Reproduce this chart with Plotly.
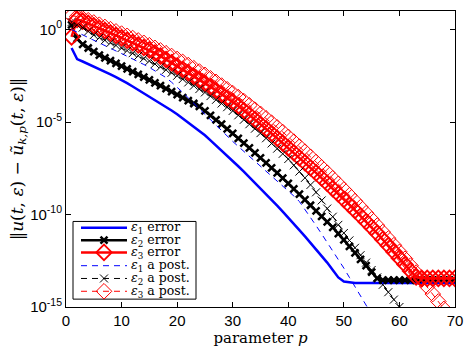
import plotly.graph_objects as go

# parameter p
p_all = list(range(1, 71))

# log10 of the errors / estimates
eps1_err_log = [-1.0, -1.6, -1.73, -1.86, -2.0, -2.14, -2.28, -2.42, -2.57, -2.72,
                -2.9, -3.08, -3.26, -3.44, -3.62, -3.8, -3.99, -4.18, -4.38, -4.58,
                -4.8, -5.02, -5.24, -5.46, -5.72, -5.99, -6.26, -6.54, -6.82, -7.1,
                -7.39, -7.68, -7.98, -8.28, -8.58, -8.89, -9.2, -9.52, -9.84, -10.16,
                -10.5, -10.84, -11.18, -11.52, -11.87, -12.22, -12.6, -13.0, -13.4, -13.62,
                -13.68, -13.7, -13.7, -13.7, -13.7, -13.7, -13.7, -13.7, -13.7, -13.7,
                -13.7, -13.7, -13.7, -13.7, -13.7, -13.7, -13.7, -13.7, -13.7, -13.7]

eps2_err_log = [0.25, -0.5, -0.8, -1.0, -1.2, -1.38, -1.53, -1.68, -1.83, -1.98,
                -2.13, -2.28, -2.43, -2.58, -2.72, -2.88, -3.04, -3.2, -3.36, -3.52,
                -3.68, -3.84, -4.0, -4.16, -4.4, -4.64, -4.88, -5.12, -5.37, -5.62,
                -5.88, -6.14, -6.4, -6.67, -6.94, -7.21, -7.48, -7.75, -8.03, -8.32,
                -8.61, -8.9, -9.2, -9.5, -9.8, -10.1, -10.4, -10.7, -11.03, -11.37,
                -11.72, -12.07, -12.42, -12.77, -13.12, -13.45, -13.55, -13.55, -13.55, -13.55,
                -13.55, -13.55, -13.55, -13.55, -13.55, -13.55, -13.55, -13.55, -13.55, -13.55]

eps3_err_log = [-0.4, 0.55, 0.45, 0.33, 0.2, 0.07, -0.06, -0.19, -0.32, -0.45,
                -0.58, -0.71, -0.84, -0.97, -1.1, -1.27, -1.44, -1.62, -1.8, -1.98,
                -2.16, -2.34, -2.53, -2.72, -2.91, -3.1, -3.3, -3.5, -3.7, -3.9,
                -4.14, -4.38, -4.62, -4.87, -5.12, -5.37, -5.62, -5.88, -6.14, -6.4,
                -6.66, -6.93, -7.2, -7.47, -7.75, -8.03, -8.31, -8.6, -8.89, -9.18,
                -9.48, -9.78, -10.08, -10.39, -10.7, -11.02, -11.35, -11.68, -12.02, -12.36,
                -12.7, -13.05, -13.38, -13.45, -13.45, -13.45, -13.45, -13.45, -13.45, -13.45]

p_post1 = list(range(1, 56))
eps1_post_log = [0.0, -0.15, -0.3, -0.45, -0.6, -0.74, -0.88, -1.02, -1.16, -1.3,
                 -1.44, -1.59, -1.74, -1.89, -2.05, -2.22, -2.4, -2.6, -2.85, -3.1,
                 -3.4, -3.7, -4.0, -4.3, -4.6, -4.9, -5.2, -5.5, -5.78, -6.05,
                 -6.32, -6.59, -6.86, -7.13, -7.4, -7.66, -7.92, -8.18, -8.44, -8.7,
                 -9.0, -9.3, -9.72, -10.15, -10.6, -11.05, -11.5, -12.0, -12.45, -12.9,
                 -13.4, -13.9, -14.4, -14.9, -15.4]

p_post2 = list(range(1, 61))
eps2_post_log = [0.4, 0.25, 0.1, -0.1, -0.3, -0.44, -0.58, -0.72, -0.86, -1.0,
                 -1.14, -1.28, -1.42, -1.56, -1.7, -1.86, -2.02, -2.18, -2.34, -2.5,
                 -2.68, -2.86, -3.04, -3.22, -3.4, -3.6, -3.8, -4.0, -4.2, -4.4,
                 -4.64, -4.88, -5.12, -5.36, -5.6, -5.88, -6.16, -6.44, -6.72, -7.0,
                 -7.34, -7.68, -8.02, -8.4, -8.8, -9.24, -9.68, -10.12, -10.56, -11.0,
                 -11.4, -11.8, -12.2, -12.6, -13.0, -13.4, -13.8, -14.2, -14.6, -15.0]

p_post3 = list(range(1, 69))
eps3_post_log = [0.75, 0.7, 0.6, 0.5, 0.38, 0.26, 0.14, 0.02, -0.1, -0.22,
                 -0.34, -0.46, -0.59, -0.72, -0.85, -0.99, -1.13, -1.28, -1.43, -1.59,
                 -1.75, -1.92, -2.09, -2.27, -2.45, -2.64, -2.83, -3.03, -3.23, -3.44,
                 -3.65, -3.87, -4.1, -4.33, -4.56, -4.8, -5.04, -5.29, -5.54, -5.8,
                 -6.06, -6.33, -6.6, -6.88, -7.16, -7.45, -7.74, -8.04, -8.34, -8.65,
                 -8.96, -9.28, -9.6, -9.93, -10.26, -10.6, -10.95, -11.3, -11.66, -12.02,
                 -12.39, -12.76, -13.14, -13.52, -13.9, -14.3, -14.7, -15.1]

x_ticks = [0, 10, 20, 30, 40, 50, 60, 70]
y_tick_vals = [1e-15, 1e-10, 1e-5, 1e0]
y_tick_text = ["10<sup>-15</sup>", "10<sup>-10</sup>", "10<sup>-5</sup>", "10<sup>0</sup>"]

legend_labels = ["<i>ε</i><sub>1</sub> error", "<i>ε</i><sub>2</sub> error", "<i>ε</i><sub>3</sub> error",
                 "<i>ε</i><sub>1</sub> a post.", "<i>ε</i><sub>2</sub> a post.", "<i>ε</i><sub>3</sub> a post."]

BLUE = "rgb(0,0,255)"
BLACK = "rgb(0,0,0)"
RED = "rgb(255,0,0)"
SERIF = "DejaVu Serif"

def tolin(v):
    return [10 ** a for a in v]

styles = [
    dict(color=BLUE, width=2.5, dash="solid", symbol=None, msize=0, mwidth=0),
    dict(color=BLACK, width=2.5, dash="solid", symbol="x-thin", msize=7, mwidth=2.5),
    dict(color=RED, width=2.5, dash="solid", symbol="diamond-open", msize=12, mwidth=1.8),
    dict(color=BLUE, width=1, dash="6px,5px", symbol=None, msize=0, mwidth=0),
    dict(color=BLACK, width=1, dash="6px,5px", symbol="x-thin", msize=8, mwidth=1),
    dict(color=RED, width=1, dash="6px,5px", symbol="diamond-open", msize=12, mwidth=1),
]

series = [
    (p_all, eps1_err_log),
    (p_all, eps2_err_log),
    (p_all, eps3_err_log),
    (p_post1, eps1_post_log),
    (p_post2, eps2_post_log),
    (p_post3, eps3_post_log),
]

fig = go.Figure()

for (px, py), st in zip(series, styles):
    mode = "lines+markers" if st["symbol"] else "lines"
    tr = dict(x=px, y=tolin(py), mode=mode,
              line=dict(color=st["color"], width=st["width"], dash=st["dash"]),
              showlegend=False, hoverinfo="skip")
    if st["symbol"]:
        tr["marker"] = dict(symbol=st["symbol"], size=st["msize"],
                            color=st["color"],
                            line=dict(color=st["color"], width=st["mwidth"]))
    fig.add_trace(go.Scatter(**tr))

# ---- manual compact legend (overlay axes in pixel-like units) ----
L_X0, L_X1, L_Y0, L_Y1 = 73, 196, 224, 303
fig.add_trace(go.Scatter(x=[L_X0, L_X1, L_X1, L_X0, L_X0], y=[L_Y0, L_Y0, L_Y1, L_Y1, L_Y0],
                         mode="lines", fill="toself", fillcolor="white",
                         line=dict(color="black", width=1),
                         xaxis="x2", yaxis="y2", showlegend=False, hoverinfo="skip"))
row_y = [230.5, 243.0, 255.5, 269.0, 282.0, 295.0]
for i, st in enumerate(styles):
    yy = row_y[i]
    fig.add_trace(go.Scatter(x=[81, 127], y=[yy, yy], mode="lines",
                             line=dict(color=st["color"], width=st["width"], dash=st["dash"]),
                             xaxis="x2", yaxis="y2", showlegend=False, hoverinfo="skip"))
    if st["symbol"]:
        fig.add_trace(go.Scatter(x=[104], y=[yy], mode="markers",
                                 marker=dict(symbol=st["symbol"], size=st["msize"], color=st["color"],
                                             line=dict(color=st["color"], width=st["mwidth"])),
                                 xaxis="x2", yaxis="y2", showlegend=False, hoverinfo="skip"))
    fig.add_annotation(x=130, y=yy, xref="x2", yref="y2", text=legend_labels[i],
                       showarrow=False, xanchor="left", yanchor="middle", borderpad=0,
                       font=dict(family=SERIF, size=12.5, color="black"))

axis_common = dict(showline=True, linecolor="black", linewidth=1, mirror="ticks",
                   ticks="inside", ticklen=5, tickcolor="black", showgrid=False, zeroline=False,
                   tickfont=dict(family="Liberation Sans, Arial", size=15, color="black"))

fig.update_layout(
    width=474, height=353,
    margin=dict(l=66, r=19, t=10, b=42),
    paper_bgcolor="white", plot_bgcolor="white",
    xaxis=dict(range=[0, 70], tickvals=x_ticks,
               title=dict(text="parameter <i>p</i>", standoff=3,
                          font=dict(family=SERIF, size=15, color="black")),
               **axis_common),
    yaxis=dict(type="log", range=[-15, 1], tickvals=y_tick_vals, ticktext=y_tick_text,
               title=dict(text="‖<i>u</i>(<i>t</i>, <i>ε</i>) − <i>ũ</i><sub><i>k,p</i></sub>(<i>t</i>, <i>ε</i>)‖",
                          standoff=2,
                          font=dict(family=SERIF, size=17, color="black")),
               **axis_common),
    xaxis2=dict(overlaying="x", range=[66, 455], visible=False),
    yaxis2=dict(overlaying="y", range=[311, 10], visible=False),
)

fig.write_html("out.html")
